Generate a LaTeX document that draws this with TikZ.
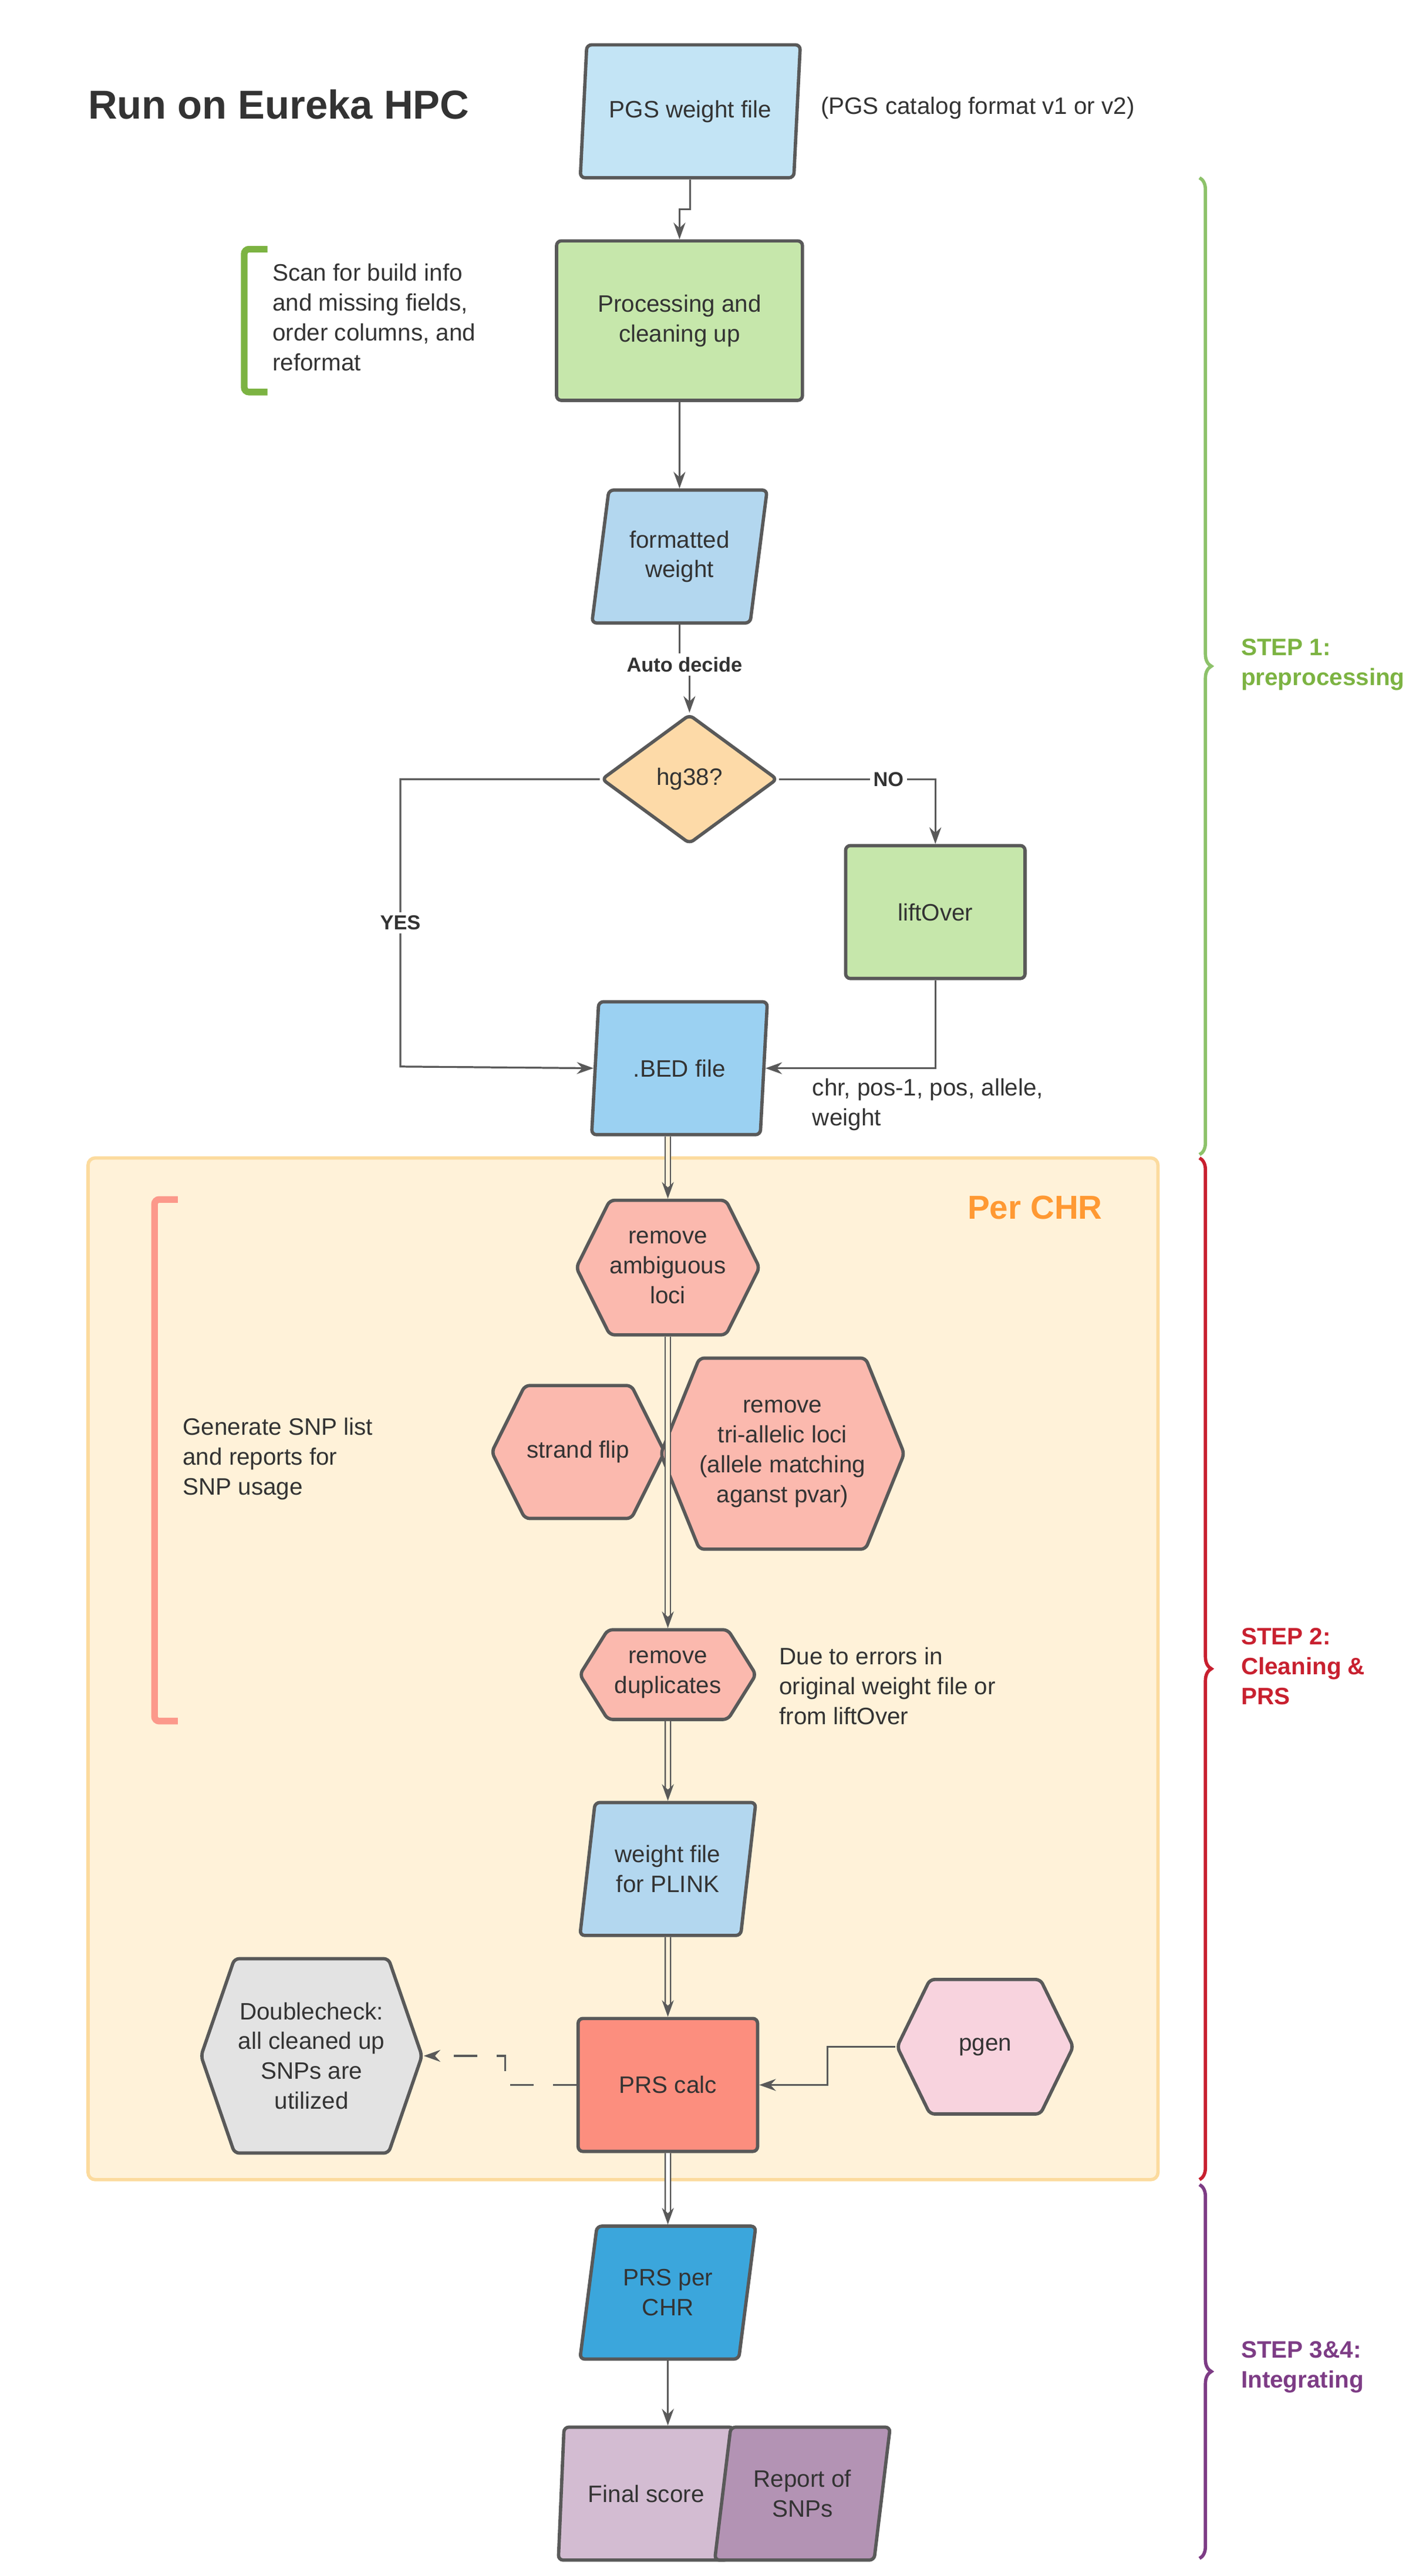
\documentclass[tikz,border=0pt]{standalone}
\usepackage{fontspec}
\setmainfont{Liberation Sans}
\usetikzlibrary{shapes.geometric,shapes.symbols,arrows.meta,decorations.pathreplacing}
\definecolor{gr}{HTML}{595959}
\definecolor{cpgs}{HTML}{C3E4F5}
\definecolor{cgreen}{HTML}{C6E7AB}
\definecolor{cfw}{HTML}{B3D7EF}
\definecolor{cdia}{HTML}{FDDAA8}
\definecolor{cbed}{HTML}{9BD1F2}
\definecolor{cchr}{HTML}{FFF2D9}
\definecolor{cchrs}{HTML}{FCDB9E}
\definecolor{csal}{HTML}{FBB9AE}
\definecolor{cprs}{HTML}{FC8E7E}
\definecolor{cpgen}{HTML}{F8D3DE}
\definecolor{cdc}{HTML}{E3E3E3}
\definecolor{cprsc}{HTML}{3BA6DC}
\definecolor{cfin}{HTML}{D3BCD2}
\definecolor{crep}{HTML}{B393B4}
\definecolor{sgreen}{HTML}{8DC26A}
\definecolor{tgreen}{HTML}{7CB342}
\definecolor{sred}{HTML}{C8202F}
\definecolor{spur}{HTML}{7D3C85}
\definecolor{corange}{HTML}{FF9933}
\definecolor{txt}{HTML}{333333}
\begin{document}
\begin{tikzpicture}[x=0.7pt,y=-0.7pt,
  every node/.style={text=txt,font=\fontsize{10}{12.6}\selectfont},
  box/.style={draw=gr,line width=1.4pt,rounded corners=2pt,align=center,inner sep=0pt},
  para/.style={box,trapezium,trapezium left angle=77,trapezium right angle=103,trapezium stretches=true,minimum height=80*0.7pt},
  rect/.style={box,rectangle},
  hex/.style={box,signal,signal to=east and west,signal pointer angle=#1},
  arr/.style={draw=gr,line width=0.8pt,-{Stealth[length=7pt,width=5pt]}},
  dbl/.style={draw=gr,line width=0.6pt,double=cchr,double distance=1.6pt,-{Stealth[length=7pt,width=5pt]}},
  lbl/.style={font=\fontsize{8.5}{10}\selectfont\bfseries,fill=white,inner sep=1.5pt},
  note/.style={anchor=west,align=left},
  steplbl/.style={anchor=west,align=left,font=\fontsize{10}{12.6}\selectfont\bfseries},
  brc/.style={decorate,decoration={brace,amplitude=5pt},line width=1.4pt}
]
\useasboundingbox (0,0) rectangle (858,1550.6);
% container
\node[draw=cchrs,fill=cchr,line width=1.4pt,rounded corners=3pt,minimum width=644*0.7pt,minimum height=615*0.7pt,inner sep=0pt] (chr) at (375,1004.5) {};
\node[text=corange,font=\fontsize{14}{16}\selectfont\bfseries] (chrl) at (623,727) {Per CHR};

\node[anchor=west,font=\fontsize{17}{20}\selectfont\bfseries] (title) at (48,63) {Run on Eureka HPC};

\node[para,fill=cpgs,minimum width=133*0.7pt] (pgs) at (415.5,67) {PGS weight file};
\node[note] (pgsn) at (489,65) {(PGS catalog format v1 or v2)};
\node[rect,fill=cgreen,minimum width=148*0.7pt,minimum height=96*0.7pt] (proc) at (409,193) {Processing and\\cleaning up};
\draw[tgreen,line width=2.8pt,rounded corners=2pt] (161,150) -- (147,150) -- (147,236) -- (161,236);
\node[note] (scan) at (159,191) {Scan for build info\\and missing fields,\\order columns, and\\reformat};
\node[para,fill=cfw,minimum width=106*0.7pt] (fw) at (409,335) {formatted\\weight};
\node[box,diamond,fill=cdia,minimum width=106*0.7pt,minimum height=78*0.7pt,aspect=1.36] (dia) at (415,469) {hg38?};
\node[rect,fill=cgreen,minimum width=108*0.7pt,minimum height=80*0.7pt] (lift) at (563,549) {liftOver};
\node[para,fill=cbed,minimum width=106*0.7pt] (bed) at (409,643) {.BED file};
\node[note] (bedn) at (484,665) {chr, pos-1, pos, allele,\\weight};

% per CHR
\draw[cprs!90!white,line width=2.8pt,rounded corners=2pt] (107,722) -- (93,722) -- (93,1036) -- (107,1036);
\node[note] (gen) at (105,878) {Generate SNP list\\and reports for\\SNP usage};
\node[hex=127,fill=csal,minimum width=106*0.7pt,minimum height=81*0.7pt] (amb) at (402,763) {remove\\ambiguous\\loci};
\node[hex=127,fill=csal,minimum width=104*0.7pt,minimum height=80*0.7pt] (sf) at (348,874) {strand flip};
\node[hex=136,fill=csal,minimum width=136*0.7pt,minimum height=115*0.7pt] (tri) at (471,875) {remove\\tri-allelic loci\\(allele matching\\aganst pvar)};
\node[hex=116,fill=csal,minimum width=106*0.7pt,minimum height=54*0.7pt] (dup) at (402,1008) {remove\\duplicates};
\node[note] (dupn) at (464,1015) {Due to errors in\\original weight file or\\from liftOver};
\node[para,fill=cfw,minimum width=106*0.7pt] (wp) at (402,1125) {weight file\\for PLINK};
\node[rect,fill=cprs,minimum width=108*0.7pt,minimum height=80*0.7pt] (prs) at (402,1255) {PRS calc};
\node[hex=128,fill=cpgen,minimum width=106*0.7pt,minimum height=81*0.7pt] (pgen) at (593,1232) {pgen};
\node[hex=142,fill=cdc,minimum width=133*0.7pt,minimum height=117*0.7pt] (dc) at (187.5,1237.5) {Doublecheck:\\all cleaned up\\SNPs are\\utilized};

\node[para,fill=cprsc,minimum width=106*0.7pt] (prsc) at (402,1380) {PRS per\\CHR};
\node[para,fill=cfin,minimum width=106*0.7pt] (fin) at (389,1501) {Final score};
\node[para,fill=crep,minimum width=106*0.7pt] (rep) at (483,1501) {Report of\\SNPs};

% connectors
\draw[arr] (pgs.south) -- ++(0,18) -| (proc.north);
\draw[arr] (proc.south) -- (fw.north);
\draw[arr] (fw.south) -- ++(0,27) -| (dia.north);
\node[lbl] (auto) at (412,400) {Auto decide};
\draw[arr] (dia.east) -| node[lbl,pos=0.35] {NO} (lift.north);
\draw[arr] (dia.west) -| node[lbl,pos=0.75] {YES} (241,642) -- (bed.west);
\draw[arr] (lift.south) |- (bed.east);
\draw[dbl] (bed.south -| amb.north) -- (amb.north);
\draw[dbl] (amb.south) -- (dup.north);
\draw[dbl] (dup.south) -- (wp.north);
\draw[dbl] (wp.south) -- (prs.north);
\draw[arr] (pgen.west) -- (498,1232) |- (prs.east);
\draw[arr,dash pattern=on 10pt off 8pt] (prs.west) -- (304,1255) |- (dc.east);
\draw[dbl,double=white] (prs.south) -- (prsc.north);
\draw[arr] (prsc.south) -- (prsc.south |- fin.north);

% braces
\draw[brc,sgreen] (722,107) -- (722,695);
\node[steplbl,text=tgreen] (s1) at (742,400) {STEP 1:\\preprocessing};
\draw[brc,sred] (722,697) -- (722,1312);
\node[steplbl,text=sred] (s2) at (742,1003) {STEP 2:\\Cleaning \&\\PRS};
\draw[brc,spur] (722,1315) -- (722,1540);
\node[steplbl,text=spur] (s3) at (742,1425) {STEP 3\&4:\\Integrating};
\end{tikzpicture}
\end{document}
